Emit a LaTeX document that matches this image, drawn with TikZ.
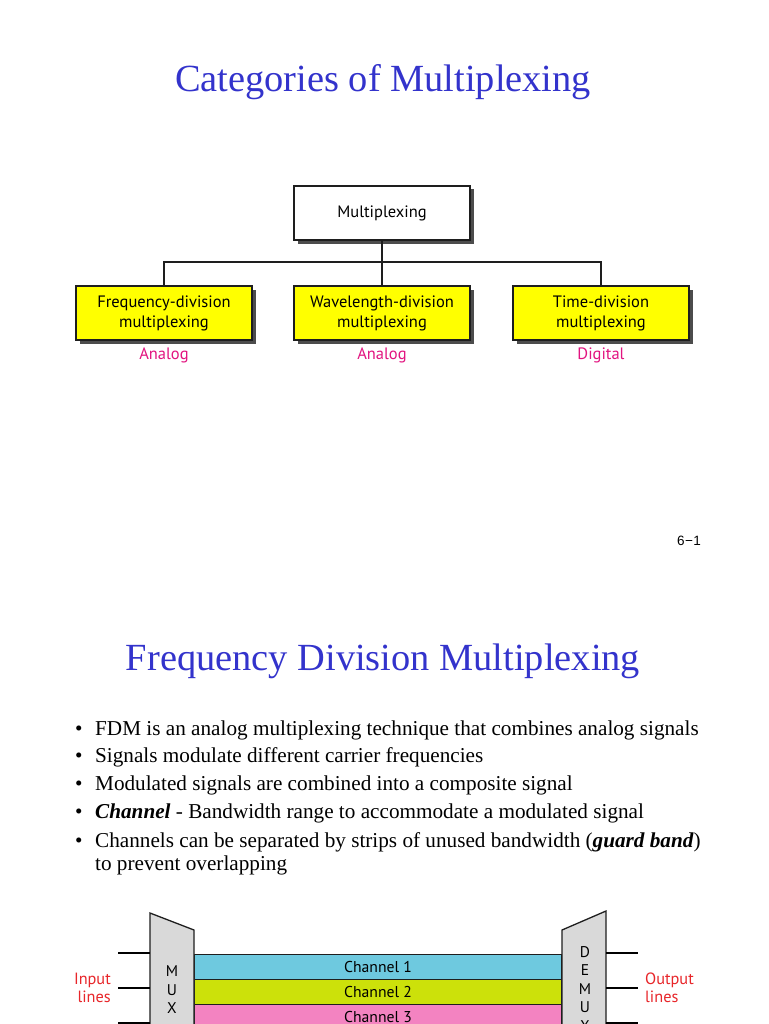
\documentclass[tikz,border=0pt]{standalone}
\usepackage{fontspec}
\setmainfont{Liberation Serif}
\newfontfamily\diag{PT Sans}
\newfontfamily\helv{Liberation Sans}
\usetikzlibrary{shadows}
\definecolor{titleblue}{RGB}{51,51,204}
\definecolor{boxyellow}{RGB}{255,255,0}
\definecolor{labmag}{RGB}{226,20,128}
\definecolor{labred}{RGB}{232,38,42}
\definecolor{chcyan}{RGB}{110,201,223}
\definecolor{chlime}{RGB}{204,225,10}
\definecolor{chpink}{RGB}{243,131,193}
\definecolor{muxgray}{RGB}{217,217,217}
\definecolor{edge}{RGB}{30,30,30}
\begin{document}
\begin{tikzpicture}[x=1pt,y=-1pt,
  titletxt/.style={font=\fontsize{38.4}{42}\selectfont, text=titleblue, inner sep=0pt},
  catbox/.style={draw=edge, line width=1.3pt, minimum width=176pt, minimum height=54pt, align=center,
    font=\diag\fontsize{16.5}{20}\selectfont, inner sep=0pt,
    drop shadow={shadow xshift=3.5pt, shadow yshift=-3.5pt, fill=black!70, opacity=1}},
  catlab/.style={font=\diag\fontsize{16.5}{19}\selectfont, text=labmag, inner sep=0pt},
  conn/.style={draw=edge, line width=1.5pt},
  bullettxt/.style={font=\fontsize{21.2}{25}\selectfont, anchor=base west, inner sep=0pt},
  band/.style={draw=edge, line width=1.3pt, minimum width=368pt, minimum height=25pt, inner sep=0pt,
    font=\diag\fontsize{15.7}{18}\selectfont},
  muxshape/.style={draw=edge, line width=1.3pt, fill=muxgray},
  muxlet/.style={font=\diag\fontsize{15.5}{18}\selectfont, inner sep=0pt},
  sidelab/.style={font=\diag\fontsize{16.3}{18}\selectfont, text=labred, inner sep=0pt},
  ioline/.style={draw=black, line width=1.5pt}
]
\useasboundingbox (0,0) rectangle (768,1024);
\clip (0,0) rectangle (768,1024);
\fill[white] (0,0) rectangle (768,1024);

% ---------- slide 1 ----------
\node[titletxt, anchor=base] (t1) at (383,92) {Categories of Multiplexing};

\node[catbox, fill=white] (mux) at (382,213) {Multiplexing};
\node[catbox, fill=boxyellow] (fdm) at (164,313) {Frequency-division\\multiplexing};
\node[catbox, fill=boxyellow] (wdm) at (382,313) {Wavelength-division\\multiplexing};
\node[catbox, fill=boxyellow] (tdm) at (601,313) {Time-division\\multiplexing};
\coordinate (bar) at (382,262);
\draw[conn] (mux.south) -- (bar);
\draw[conn] (fdm.north) |- (bar) -| (tdm.north);
\draw[conn] (bar) -- (wdm.north);

\node[catlab] (l1) at (164,355) {Analog};
\node[catlab] (l2) at (382,355) {Analog};
\node[catlab] (l3) at (601,355) {Digital};

\node[font=\helv\fontsize{13.5}{15}\selectfont, anchor=base, inner sep=0pt] (pg) at (689,545) {6\kern0.5pt−\kern0.5pt1};

% ---------- slide 2 ----------
\node[titletxt, anchor=base] (t2) at (383,670) {Frequency Division Multiplexing};

\foreach \yy/\txt [count=\i] in {
  735/{FDM is an analog multiplexing technique that combines analog signals},
  762/{Signals modulate different carrier frequencies},
  790/{Modulated signals are combined into a composite signal},
  818/{\textbf{\textit{Channel}} - Bandwidth range to accommodate a modulated signal},
  847/{Channels can be separated by strips of unused bandwidth (\textbf{\textit{guard band}})}} {
  \node[bullettxt] (b\i) at (75,\yy) {\textbullet};
  \node[bullettxt] (bt\i) at (95,\yy) {\txt};
}
\node[bullettxt] (bt6) at (95,870) {to prevent overlapping};

% ---------- FDM diagram ----------
\node[band, fill=chcyan] (ch1) at (378,967) {Channel 1};
\node[band, fill=chlime] (ch2) at (378,992) {Channel 2};
\node[band, fill=chpink] (ch3) at (378,1017) {Channel 3};

\draw[muxshape] (150,1040) -- (150,913) -- (194,930) -- (194,1040) -- cycle;
\draw[muxshape] (562,1040) -- (562,930) -- (606,911) -- (606,1040) -- cycle;

\foreach \ch [count=\i] in {M,U,X}
  \node[muxlet] (m\i) at (172,953+18.5*\i) {\ch};
\foreach \ch [count=\i] in {D,E,M,U,X}
  \node[muxlet] (d\i) at (585,933.5+18.5*\i) {\ch};

\foreach \yy [count=\i] in {953,988,1023} {
  \coordinate (inL\i) at (118,\yy);
  \coordinate (inR\i) at (150,\yy);
  \coordinate (outL\i) at (606,\yy);
  \coordinate (outR\i) at (638,\yy);
  \draw[ioline] (inL\i) -- (inR\i);
  \draw[ioline] (outL\i) -- (outR\i);
}

\node[sidelab, align=right, anchor=east] (inlab) at (111,988) {Input\\lines};
\node[sidelab, align=left, anchor=west] (outlab) at (645,988) {Output\\lines};
\end{tikzpicture}
\end{document}
